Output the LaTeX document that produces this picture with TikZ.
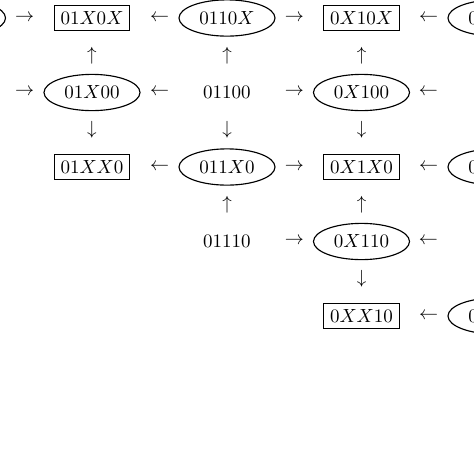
\documentclass[tikz,border=0pt]{standalone}
\usetikzlibrary{shapes.geometric}
\begin{document}
\begin{tikzpicture}[x=0.5263pt,y=-0.5263pt,
  boxnode/.style={draw,rectangle,line width=0.6pt,inner sep=3.33pt},
  ellnode/.style={draw,ellipse,line width=0.6pt,inner sep=3.33pt},
  plain/.style={inner sep=3.33pt},
  arr/.style={inner sep=0pt}]
\useasboundingbox (0,0) rectangle (474,474);
\clip (0,0) rectangle (474,474);
% column 0 (mostly outside)
\node[ellnode] (a1) at (-42.5,18) {$0100X$};
\node[plain]   (a2) at (-42.5,92.5) {$01000$};
% column 1
\node[boxnode] (b1) at (92,18) {$01X0X$};
\node[ellnode] (b2) at (92,92.5) {$01X00$};
\node[boxnode] (b3) at (92,167) {$01XX0$};
% column 2
\node[ellnode] (c1) at (227,18) {$0110X$};
\node[plain]   (c2) at (227,92.5) {$01100$};
\node[ellnode] (c3) at (227,167) {$011X0$};
\node[plain]   (c4) at (227,241.5) {$01110$};
% column 3
\node[boxnode] (d1) at (361.5,18) {$0X10X$};
\node[ellnode] (d2) at (361.5,92.5) {$0X100$};
\node[boxnode] (d3) at (361.5,167) {$0X1X0$};
\node[ellnode] (d4) at (361.5,241.5) {$0X110$};
\node[boxnode] (d5) at (361.5,316) {$0XX10$};
% column 4 (mostly outside)
\node[ellnode] (e1) at (496,18) {$0010X$};
\node[plain]   (e2) at (510,92.5) {$00100$};
\node[ellnode] (e3) at (496,167) {$001X0$};
\node[plain]   (e4) at (510,241.5) {$00110$};
\node[ellnode] (e5) at (496,316) {$00X10$};
% horizontal arrows
\path (a1.center) -- node[arr]{$\rightarrow$} (b1.center);
\path (b1.center) -- node[arr]{$\leftarrow$} (c1.center);
\path (c1.center) -- node[arr]{$\rightarrow$} (d1.center);
\path (d1.center) -- node[arr]{$\leftarrow$} (e1.center);
\path (a2.center) -- node[arr]{$\rightarrow$} (b2.center);
\path (b2.center) -- node[arr]{$\leftarrow$} (c2.center);
\path (c2.center) -- node[arr]{$\rightarrow$} (d2.center);
\path (d2.center) -- node[arr,pos=0.451]{$\leftarrow$} (e2.center);
\path (b3.center) -- node[arr]{$\leftarrow$} (c3.center);
\path (c3.center) -- node[arr]{$\rightarrow$} (d3.center);
\path (d3.center) -- node[arr]{$\leftarrow$} (e3.center);
\path (c4.center) -- node[arr]{$\rightarrow$} (d4.center);
\path (d4.center) -- node[arr,pos=0.451]{$\leftarrow$} (e4.center);
\path (d5.center) -- node[arr]{$\leftarrow$} (e5.center);
% vertical arrows
\path (b1.center) -- node[arr]{$\uparrow$} (b2.center);
\path (b2.center) -- node[arr]{$\downarrow$} (b3.center);
\path (c1.center) -- node[arr]{$\uparrow$} (c2.center);
\path (c2.center) -- node[arr]{$\downarrow$} (c3.center);
\path (c3.center) -- node[arr]{$\uparrow$} (c4.center);
\path (d1.center) -- node[arr]{$\uparrow$} (d2.center);
\path (d2.center) -- node[arr]{$\downarrow$} (d3.center);
\path (d3.center) -- node[arr]{$\uparrow$} (d4.center);
\path (d4.center) -- node[arr]{$\downarrow$} (d5.center);
\end{tikzpicture}
\end{document}
